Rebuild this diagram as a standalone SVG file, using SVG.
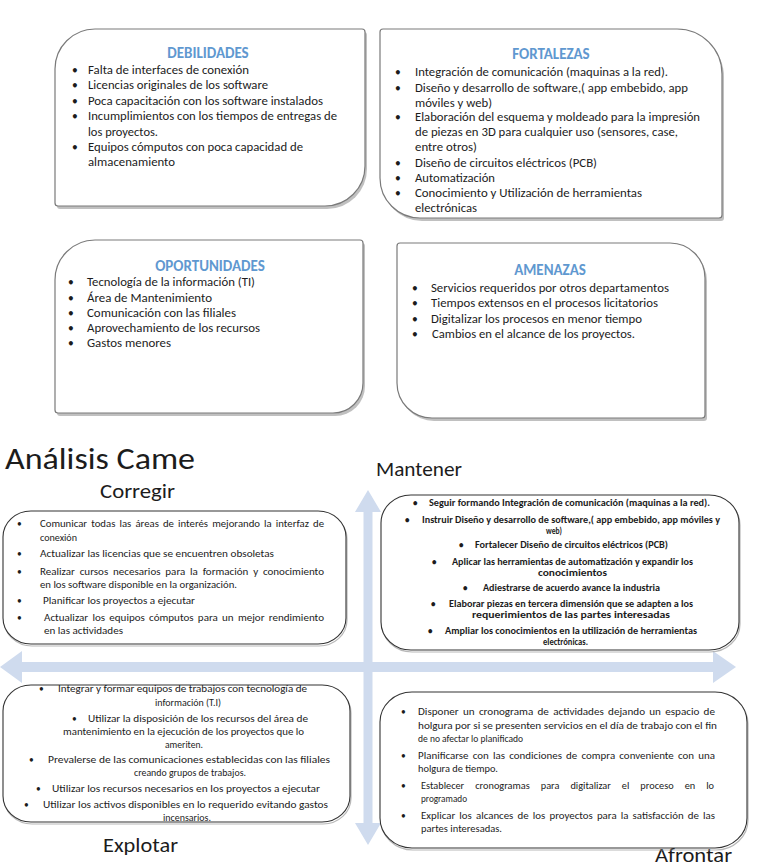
<svg xmlns="http://www.w3.org/2000/svg" width="768" height="866" viewBox="0 0 768 866">
<style>
  .box{fill:#ffffff;stroke:#7a7a7a;stroke-width:1.2}
  .shadow{fill:#8c8c8c;opacity:0.55}
  .qbox{fill:#ffffff;stroke:#333333;stroke-width:1.1}
  .qshadow{fill:none;stroke:#9a9a9a;stroke-width:1.2;opacity:0.7}
  .ttl{font-family:Carlito,Lato,"Open Sans","Liberation Sans",sans-serif;font-size:15px;font-weight:bold;fill:#5f98d0;text-anchor:middle}
  .t{font-family:Carlito,Lato,"Open Sans","Liberation Sans",sans-serif;font-size:11.5px;fill:#1c1c1c}
  .q{font-family:Carlito,Lato,"Open Sans","Liberation Sans",sans-serif;font-size:9.5px;fill:#1c1c1c}
  .c{text-anchor:middle}
  .m{font-family:Carlito,Lato,"Open Sans","Liberation Sans",sans-serif;font-size:9px;font-weight:bold;fill:#1c1c1c}
  .lbl{font-family:Carlito,Lato,"Open Sans","Liberation Sans",sans-serif;font-size:20px;fill:#1c1c1c}
  .big{font-family:Carlito,Lato,"Open Sans","Liberation Sans",sans-serif;font-size:31px;font-weight:300;fill:#1c1c1c}
  .arrow{fill:#cfdbee}
</style>

<g id="connectors">
  <path class="arrow" d="M0 667 L22 651 L22 662 L713 662 L713 651 L736 667 L713 683 L713 672 L22 672 L22 683 Z"/>
  <path class="arrow" d="M368 490 L381 512 L372.5 512 L372.5 823 L381 823 L368 845 L355 823 L363.5 823 L363.5 512 L355 512 Z"/>
</g>

<g id="debilidades">
  <path class="shadow" transform="translate(2,3)" d="M95 29 L362 29 Q365 29 365 32 L365 166 A40 40 0 0 1 325 206 L58 206 Q55 206 55 203 L55 69 A40 40 0 0 1 95 29 Z"/>
  <path class="box" d="M95 29 L362 29 Q365 29 365 32 L365 166 A40 40 0 0 1 325 206 L58 206 Q55 206 55 203 L55 69 A40 40 0 0 1 95 29 Z"/>
  <text class="ttl" x="208" y="58">DEBILIDADES</text>
  <text class="t" x="72" y="74">•</text><text class="t" x="88" y="74" textLength="161" lengthAdjust="spacingAndGlyphs">Falta de interfaces de conexión</text>
  <text class="t" x="72" y="89">•</text><text class="t" x="88" y="89" textLength="180" lengthAdjust="spacingAndGlyphs">Licencias originales de los software</text>
  <text class="t" x="72" y="105">•</text><text class="t" x="88" y="105" textLength="235" lengthAdjust="spacingAndGlyphs">Poca capacitación con los software instalados</text>
  <text class="t" x="72" y="120">•</text><text class="t" x="88" y="120" textLength="249" lengthAdjust="spacingAndGlyphs">Incumplimientos con los tiempos de entregas de</text>
  <text class="t" x="88" y="136" textLength="70" lengthAdjust="spacingAndGlyphs">los proyectos.</text>
  <text class="t" x="72" y="151">•</text><text class="t" x="88" y="151" textLength="215" lengthAdjust="spacingAndGlyphs">Equipos cómputos con poca capacidad de</text>
  <text class="t" x="88" y="166" textLength="87" lengthAdjust="spacingAndGlyphs">almacenamiento</text>
</g>

<g id="fortalezas">
  <path class="shadow" transform="translate(2,3)" d="M383 29 L677 29 A45 45 0 0 1 722 74 L722 215 Q722 218 719 218 L420 218 A40 40 0 0 1 380 178 L380 32 Q380 29 383 29 Z"/>
  <path class="box" d="M383 29 L677 29 A45 45 0 0 1 722 74 L722 215 Q722 218 719 218 L420 218 A40 40 0 0 1 380 178 L380 32 Q380 29 383 29 Z"/>
  <text class="ttl" x="551" y="59">FORTALEZAS</text>
  <text class="t" x="395" y="76">•</text><text class="t" x="415" y="76" textLength="253" lengthAdjust="spacingAndGlyphs">Integración de comunicación (maquinas a la red).</text>
  <text class="t" x="395" y="92">•</text><text class="t" x="415" y="92" textLength="273" lengthAdjust="spacingAndGlyphs">Diseño y desarrollo de software,( app embebido, app</text>
  <text class="t" x="415" y="107" textLength="77" lengthAdjust="spacingAndGlyphs">móviles y web)</text>
  <text class="t" x="395" y="121">•</text><text class="t" x="415" y="121" textLength="285" lengthAdjust="spacingAndGlyphs">Elaboración del esquema y moldeado para la impresión</text>
  <text class="t" x="415" y="136" textLength="263" lengthAdjust="spacingAndGlyphs">de piezas en 3D para cualquier uso (sensores, case,</text>
  <text class="t" x="415" y="151" textLength="62" lengthAdjust="spacingAndGlyphs">entre otros)</text>
  <text class="t" x="395" y="167">•</text><text class="t" x="415" y="167" textLength="182" lengthAdjust="spacingAndGlyphs">Diseño de circuitos eléctricos (PCB)</text>
  <text class="t" x="395" y="182">•</text><text class="t" x="415" y="182" textLength="80" lengthAdjust="spacingAndGlyphs">Automatización</text>
  <text class="t" x="395" y="197">•</text><text class="t" x="415" y="197" textLength="227" lengthAdjust="spacingAndGlyphs">Conocimiento y Utilización de herramientas</text>
  <text class="t" x="415" y="212" textLength="62" lengthAdjust="spacingAndGlyphs">electrónicas</text>
</g>

<g id="oportunidades">
  <path class="shadow" transform="translate(2,3)" d="M95 240 L360 240 Q363 240 363 243 L363 383 A30 30 0 0 1 333 413 L58 413 Q55 413 55 410 L55 280 A40 40 0 0 1 95 240 Z"/>
  <path class="box" d="M95 240 L360 240 Q363 240 363 243 L363 383 A30 30 0 0 1 333 413 L58 413 Q55 413 55 410 L55 280 A40 40 0 0 1 95 240 Z"/>
  <text class="ttl" x="210" y="271">OPORTUNIDADES</text>
  <text class="t" x="68" y="286">•</text><text class="t" x="87" y="286" textLength="168" lengthAdjust="spacingAndGlyphs">Tecnología de la información (TI)</text>
  <text class="t" x="68" y="302">•</text><text class="t" x="87" y="302" textLength="125" lengthAdjust="spacingAndGlyphs">Área de Mantenimiento</text>
  <text class="t" x="68" y="317">•</text><text class="t" x="87" y="317" textLength="149" lengthAdjust="spacingAndGlyphs">Comunicación con las filiales</text>
  <text class="t" x="68" y="332">•</text><text class="t" x="87" y="332" textLength="173" lengthAdjust="spacingAndGlyphs">Aprovechamiento de los recursos</text>
  <text class="t" x="68" y="347">•</text><text class="t" x="87" y="347" textLength="84" lengthAdjust="spacingAndGlyphs">Gastos menores</text>
</g>

<g id="amenazas">
  <path class="shadow" transform="translate(2,3)" d="M400 243 L670 243 A35 35 0 0 1 705 278 L705 415 Q705 418 702 418 L432 418 A35 35 0 0 1 397 383 L397 246 Q397 243 400 243 Z"/>
  <path class="box" d="M400 243 L670 243 A35 35 0 0 1 705 278 L705 415 Q705 418 702 418 L432 418 A35 35 0 0 1 397 383 L397 246 Q397 243 400 243 Z"/>
  <text class="ttl" x="550" y="275">AMENAZAS</text>
  <text class="t" x="412" y="292">•</text><text class="t" x="431" y="292" textLength="238" lengthAdjust="spacingAndGlyphs">Servicios requeridos por otros departamentos</text>
  <text class="t" x="412" y="307">•</text><text class="t" x="431" y="307" textLength="227" lengthAdjust="spacingAndGlyphs">Tiempos extensos en el procesos licitatorios</text>
  <text class="t" x="412" y="323">•</text><text class="t" x="431" y="323" textLength="211" lengthAdjust="spacingAndGlyphs">Digitalizar los procesos en menor tiempo</text>
  <text class="t" x="412" y="338">•</text><text class="t" x="432" y="338" textLength="203" lengthAdjust="spacingAndGlyphs">Cambios en el alcance de los proyectos.</text>
</g>

<g id="titles">
  <text class="big" x="5" y="469" textLength="190" lengthAdjust="spacingAndGlyphs">Análisis Came</text>
  <text class="lbl" x="376" y="476" textLength="86" lengthAdjust="spacingAndGlyphs">Mantener</text>
  <text class="lbl" x="100" y="498" textLength="75" lengthAdjust="spacingAndGlyphs">Corregir</text>
  <text class="lbl" x="103" y="852" textLength="75" lengthAdjust="spacingAndGlyphs">Explotar</text>
  <text class="lbl" x="655" y="862" textLength="77" lengthAdjust="spacingAndGlyphs">Afrontar</text>
</g>

<g id="corregir">
  <rect class="qshadow" x="4" y="513" width="343" height="133" rx="28" ry="26"/>
  <rect class="qbox" x="3" y="511" width="343" height="133" rx="28" ry="26"/>
  <text class="q" x="17" y="527">•</text><text class="q" x="40" y="527" style="word-spacing:1.5px" textLength="284" lengthAdjust="spacingAndGlyphs">Comunicar todas las áreas de interés mejorando la interfaz de</text>
  <text class="q" x="40" y="541" textLength="37" lengthAdjust="spacingAndGlyphs">conexión</text>
  <text class="q" x="17" y="557">•</text><text class="q" x="40" y="557" textLength="234" lengthAdjust="spacingAndGlyphs">Actualizar las licencias que se encuentren obsoletas</text>
  <text class="q" x="17" y="575">•</text><text class="q" x="40" y="575" style="word-spacing:2px" textLength="284" lengthAdjust="spacingAndGlyphs">Realizar cursos necesarios para la formación y conocimiento</text>
  <text class="q" x="40" y="588" textLength="197" lengthAdjust="spacingAndGlyphs">en los software disponible en la organización.</text>
  <text class="q" x="17" y="604">•</text><text class="q" x="43" y="604" textLength="152" lengthAdjust="spacingAndGlyphs">Planificar los proyectos a ejecutar</text>
  <text class="q" x="17" y="621">•</text><text class="q" x="44" y="621" style="word-spacing:1.5px" textLength="280" lengthAdjust="spacingAndGlyphs">Actualizar los equipos cómputos para un mejor rendimiento</text>
  <text class="q" x="44" y="634" textLength="79" lengthAdjust="spacingAndGlyphs">en las actividades</text>
</g>

<g id="mantener">
  <rect class="qshadow" x="382" y="497" width="358" height="155" rx="30" ry="28"/>
  <rect class="qbox" x="381" y="495" width="358" height="155" rx="30" ry="28"/>
  <text class="m" x="413" y="506">•</text><text class="m" x="429" y="506" textLength="281" lengthAdjust="spacingAndGlyphs">Seguir formando Integración de comunicación (maquinas a la red).</text>
  <text class="m" x="405" y="523">•</text><text class="m" x="422" y="523" textLength="298" lengthAdjust="spacingAndGlyphs">Instruir Diseño y desarrollo de software,( app embebido, app móviles y</text>
  <text class="m" x="546" y="534" textLength="16" lengthAdjust="spacingAndGlyphs">web)</text>
  <text class="m" x="459" y="548">•</text><text class="m" x="475" y="548" textLength="193" lengthAdjust="spacingAndGlyphs">Fortalecer Diseño de circuitos eléctricos (PCB)</text>
  <text class="m" x="432" y="565">•</text><text class="m" x="452" y="565" textLength="241" lengthAdjust="spacingAndGlyphs">Aplicar las herramientas de automatización y expandir los</text>
  <text class="m" x="538" y="576" textLength="69" lengthAdjust="spacingAndGlyphs">conocimientos</text>
  <text class="m" x="463" y="591">•</text><text class="m" x="483" y="591" textLength="177" lengthAdjust="spacingAndGlyphs">Adiestrarse de acuerdo avance la industria</text>
  <text class="m" x="431" y="607">•</text><text class="m" x="449" y="607" textLength="244" lengthAdjust="spacingAndGlyphs">Elaborar piezas en tercera dimensión que se adapten a los</text>
  <text class="m" x="472" y="618" textLength="198" lengthAdjust="spacingAndGlyphs">requerimientos de las partes interesadas</text>
  <text class="m" x="428" y="634">•</text><text class="m" x="445" y="634" textLength="252" lengthAdjust="spacingAndGlyphs">Ampliar los conocimientos en la utilización de herramientas</text>
  <text class="m" x="543" y="645" textLength="45" lengthAdjust="spacingAndGlyphs">electrónicas.</text>
</g>

<g id="explotar">
  <rect class="qshadow" x="4" y="687" width="347" height="137" rx="28" ry="26"/>
  <rect class="qbox" x="3" y="685" width="347" height="137" rx="28" ry="26"/>
  <text class="q" x="39" y="692">•</text><text class="q" x="58" y="692" textLength="249" lengthAdjust="spacingAndGlyphs">Integrar y formar equipos de trabajos con tecnología de</text>
  <text class="q c" x="188" y="706" textLength="66" lengthAdjust="spacingAndGlyphs">información (T.I)</text>
  <text class="q" x="72" y="722">•</text><text class="q" x="88" y="722" textLength="220" lengthAdjust="spacingAndGlyphs">Utilizar la disposición de los recursos del área de</text>
  <text class="q" x="63" y="735" textLength="241" lengthAdjust="spacingAndGlyphs">mantenimiento en la ejecución de los proyectos que lo</text>
  <text class="q c" x="184" y="748" textLength="38" lengthAdjust="spacingAndGlyphs">ameriten.</text>
  <text class="q" x="29" y="763">•</text><text class="q" x="48" y="763" textLength="282" lengthAdjust="spacingAndGlyphs">Prevalerse de las comunicaciones establecidas con las filiales</text>
  <text class="q c" x="190" y="776" textLength="112" lengthAdjust="spacingAndGlyphs">creando grupos de trabajos.</text>
  <text class="q" x="36" y="792">•</text><text class="q" x="52" y="792" textLength="268" lengthAdjust="spacingAndGlyphs">Utilizar los recursos necesarios en los proyectos a ejecutar</text>
  <text class="q" x="24" y="808">•</text><text class="q" x="43" y="808" textLength="285" lengthAdjust="spacingAndGlyphs">Utilizar los activos disponibles en lo requerido evitando gastos</text>
  <text class="q c" x="187" y="821" textLength="48" lengthAdjust="spacingAndGlyphs">incensarios.</text>
</g>

<g id="afrontar">
  <rect class="qshadow" x="381" y="694" width="367" height="156" rx="32" ry="30"/>
  <rect class="qbox" x="380" y="692" width="367" height="156" rx="32" ry="30"/>
  <text class="q" x="401" y="715">•</text><text class="q" x="418" y="715" style="word-spacing:1.5px" textLength="297" lengthAdjust="spacingAndGlyphs">Disponer un cronograma de actividades dejando un espacio de</text>
  <text class="q" x="418" y="729" textLength="299" lengthAdjust="spacingAndGlyphs">holgura por si se presenten servicios en el día de trabajo  con el fin</text>
  <text class="q" x="418" y="742" textLength="105" lengthAdjust="spacingAndGlyphs">de no afectar lo planificado</text>
  <text class="q" x="401" y="759">•</text><text class="q" x="418" y="759" style="word-spacing:1.5px" textLength="297" lengthAdjust="spacingAndGlyphs">Planificarse con las condiciones de compra conveniente con una</text>
  <text class="q" x="418" y="772" textLength="80" lengthAdjust="spacingAndGlyphs">holgura de tiempo.</text>
  <text class="q" x="401" y="789">•</text><text class="q" x="421" y="789" style="word-spacing:8px" textLength="293" lengthAdjust="spacingAndGlyphs">Establecer cronogramas para digitalizar el proceso en lo</text>
  <text class="q" x="421" y="802" textLength="46" lengthAdjust="spacingAndGlyphs">programado</text>
  <text class="q" x="401" y="819">•</text><text class="q" x="421" y="819" style="word-spacing:1.5px" textLength="294" lengthAdjust="spacingAndGlyphs">Explicar los alcances de los proyectos para la satisfacción de las</text>
  <text class="q" x="421" y="832" textLength="81" lengthAdjust="spacingAndGlyphs">partes interesadas.</text>
</g>
</svg>
